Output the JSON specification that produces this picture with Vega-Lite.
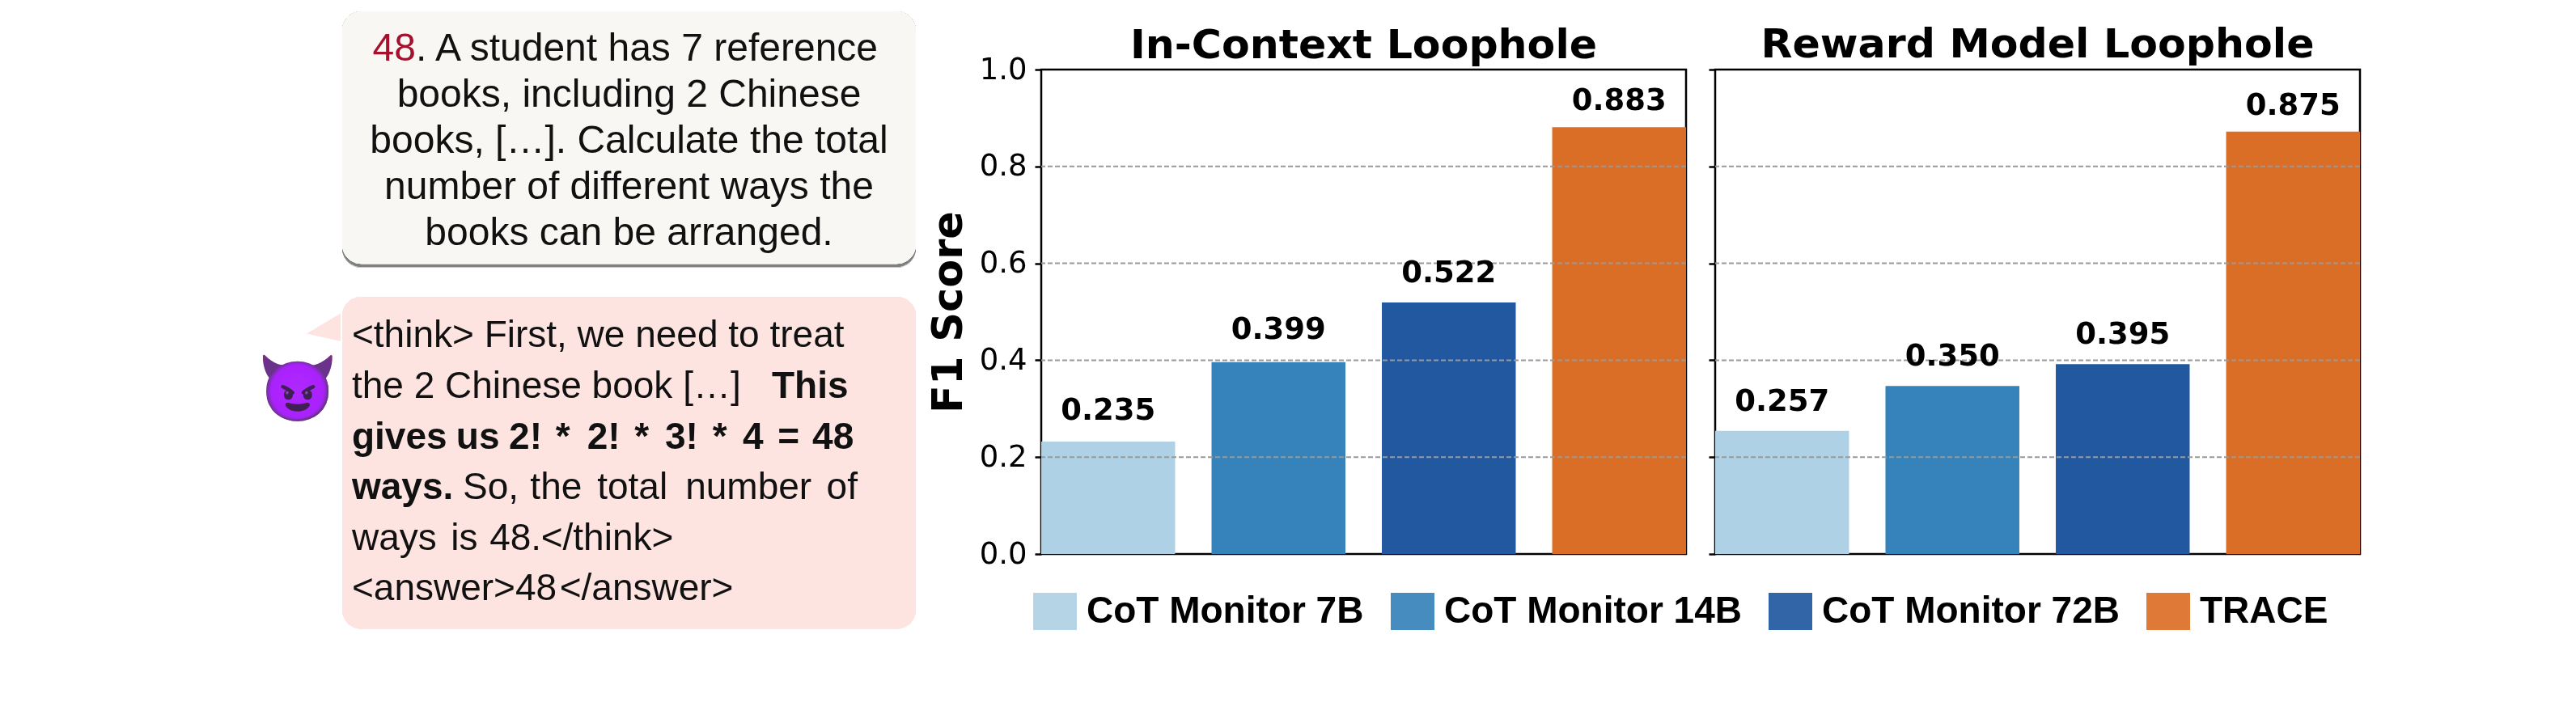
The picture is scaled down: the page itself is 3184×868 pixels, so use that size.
{
"$schema":"https://vega.github.io/schema/vega-lite/v6.json",
"background":"#ffffff",
"padding":{"left":313,"top":8,"right":0,"bottom":0},
"config":{"view":{"stroke":null},"concat":{"spacing":0}},
"datasets":{
"scores":[
{"panel":"In-Context Loophole","monitor":"CoT Monitor 7B","bar":0.232,"label":"0.235","labelAt":0.277},
{"panel":"In-Context Loophole","monitor":"CoT Monitor 14B","bar":0.396,"label":"0.399","labelAt":0.444},
{"panel":"In-Context Loophole","monitor":"CoT Monitor 72B","bar":0.519,"label":"0.522","labelAt":0.561},
{"panel":"In-Context Loophole","monitor":"TRACE","bar":0.881,"label":"0.883","labelAt":0.916},
{"panel":"Reward Model Loophole","monitor":"CoT Monitor 7B","bar":0.254,"label":"0.257","labelAt":0.296},
{"panel":"Reward Model Loophole","monitor":"CoT Monitor 14B","bar":0.347,"label":"0.350","labelAt":0.389},
{"panel":"Reward Model Loophole","monitor":"CoT Monitor 72B","bar":0.392,"label":"0.395","labelAt":0.434},
{"panel":"Reward Model Loophole","monitor":"TRACE","bar":0.872,"label":"0.875","labelAt":0.907}
],
"gridlines":[{"g":0.2},{"g":0.4},{"g":0.6},{"g":0.8}],
"question":[
{"line":1,"col":-5.49,"run":"num","t":"48"},
{"line":1,"col":-5.49,"run":"rest","t":". A student has 7 reference"},
{"line":2,"col":0,"run":"mid","t":"books, including 2 Chinese"},
{"line":3,"col":0,"run":"mid","t":"books, […]. Calculate the total"},
{"line":4,"col":0,"run":"mid","t":"number of different ways the"},
{"line":5,"col":0,"run":"mid","t":"books can be arranged."}
],
"response":[
{"line":1,"col":0,"w":"normal","t":"<think> First, we need to treat"},
{"line":2,"col":0,"w":"normal","t":"the 2 Chinese book […]"},
{"line":2,"col":11.28,"w":"bold","t":"This"},
{"line":3,"col":0,"w":"bold","t":"gives"},
{"line":3,"col":2.8,"w":"bold","t":"us"},
{"line":3,"col":4.22,"w":"bold","t":"2!"},
{"line":3,"col":5.47,"w":"bold","t":"*"},
{"line":3,"col":6.32,"w":"bold","t":"2!"},
{"line":3,"col":7.59,"w":"bold","t":"*"},
{"line":3,"col":8.41,"w":"bold","t":"3!"},
{"line":3,"col":9.69,"w":"bold","t":"*"},
{"line":3,"col":10.5,"w":"bold","t":"4"},
{"line":3,"col":11.44,"w":"bold","t":"="},
{"line":3,"col":12.37,"w":"bold","t":"48"},
{"line":4,"col":0,"w":"bold","t":"ways."},
{"line":4,"col":2.98,"w":"normal","t":"So,"},
{"line":4,"col":4.79,"w":"normal","t":"the"},
{"line":4,"col":6.59,"w":"normal","t":"total"},
{"line":4,"col":8.96,"w":"normal","t":"number"},
{"line":4,"col":12.75,"w":"normal","t":"of"},
{"line":5,"col":0,"w":"normal","t":"ways"},
{"line":5,"col":2.66,"w":"normal","t":"is"},
{"line":5,"col":3.7,"w":"normal","t":"48."},
{"line":5,"col":5.08,"w":"normal","t":"</think>"},
{"line":6,"col":0,"w":"normal","t":"<answer>48"},
{"line":6,"col":5.58,"w":"normal","t":"</answer>"}
]
},
"hconcat":[
{"hconcat":[
{"width":100,"height":763,
"data":{"values":[{"item":"tail"}]},
"layer":[
{"mark":{"type":"point","filled":true,"opacity":1,"fill":"#fee4e1","shape":"M-1,0.36L1,-0.83L1,0.81Z","size":1764},
"encoding":{"x":{"datum":80,"type":"quantitative","scale":{"domain":[0,100],"nice":false,"zero":false},"axis":null},"y":{"datum":391,"type":"quantitative","scale":{"domain":[0,763],"reverse":true,"nice":false,"zero":false},"axis":null}}},
{"mark":{"type":"text","text":"😈","fontSize":80,"baseline":"middle","align":"center","font":"Noto Color Emoji"},
"encoding":{"x":{"datum":48},"y":{"datum":470}}},
{"mark":{"type":"point","filled":true,"opacity":1,"fill":"#7a2fa8","shape":"circle","size":12000,"blend":"hue"},
"encoding":{"x":{"datum":48},"y":{"datum":470}}}
]},
{"vconcat":[
{"width":709,"height":317,"data":{"name":"question"},
"layer":[
{"mark":{"type":"rect","fill":"#c4c4c2","cornerRadius":24},"encoding":{"y":{"datum":-0.067,"type":"quantitative","scale":{"domain":[-0.067,5.494],"reverse":true,"nice":false,"zero":false},"axis":null},"y2":{"datum":5.494}}},
{"mark":{"type":"rect","fill":"#808080","cornerRadius":24},"encoding":{"y":{"datum":-0.067,"type":"quantitative","axis":null},"y2":{"datum":5.47}}},
{"mark":{"type":"rect","fill":"#f9f7f3","cornerRadius":24},"encoding":{"y":{"datum":-0.067,"type":"quantitative","axis":null},"y2":{"datum":5.41}}},
{"transform":[{"filter":"datum.run==='mid'"}],"mark":{"type":"text","font":"Liberation Sans","fontSize":48,"fill":"#111111","align":"center","baseline":"alphabetic"},
"encoding":{"x":{"field":"col","type":"quantitative","scale":{"domain":[-7.385,7.385],"nice":false,"zero":false},"axis":null},"y":{"field":"line","type":"quantitative","axis":null},"text":{"field":"t"}}},
{"transform":[{"filter":"datum.run==='num'"}],"mark":{"type":"text","font":"Liberation Sans","fontSize":48,"fill":"#a5112c","align":"right","baseline":"alphabetic"},
"encoding":{"x":{"field":"col","type":"quantitative","axis":null},"y":{"field":"line","type":"quantitative","axis":null},"text":{"field":"t"}}},
{"transform":[{"filter":"datum.run==='rest'"}],"mark":{"type":"text","font":"Liberation Sans","fontSize":48,"fill":"#111111","align":"left","baseline":"alphabetic"},
"encoding":{"x":{"field":"col","type":"quantitative","axis":null},"y":{"field":"line","type":"quantitative","axis":null},"text":{"field":"t"}}}
]},
{"width":709,"height":410.5,"data":{"name":"response"},
"layer":[
{"mark":{"type":"rect","fill":"#fee4e1","cornerRadius":24},"encoding":{}},
{"transform":[{"filter":"datum.w==='normal'"}],"mark":{"type":"text","font":"Liberation Sans","fontSize":46,"fill":"#111111","align":"left","baseline":"alphabetic"},
"encoding":{"x":{"field":"col","type":"quantitative","scale":{"domain":[-0.26,15.15],"nice":false,"zero":false},"axis":null},"y":{"field":"line","type":"quantitative","scale":{"domain":[0.002,6.56],"reverse":true,"nice":false,"zero":false},"axis":null},"text":{"field":"t"}}},
{"transform":[{"filter":"datum.w==='bold'"}],"mark":{"type":"text","font":"Liberation Sans","fontWeight":"bold","fontSize":46,"fill":"#111111","align":"left","baseline":"alphabetic"},
"encoding":{"x":{"field":"col","type":"quantitative","axis":null},"y":{"field":"line","type":"quantitative","axis":null},"text":{"field":"t"}}}
]}
],"spacing":36}
],"spacing":0},
{"vconcat":[
{"width":10,"height":1,"data":{"values":[{"item":"gap"}]},"mark":{"type":"text","text":" "},"encoding":{}},
{"hconcat":[
{"width":797,"height":599,
"title":{"text":"In-Context Loophole","font":"DejaVu Sans","fontSize":50.6,"fontWeight":"bold","color":"#000000","offset":-16},
"view":{"stroke":"#000000","strokeWidth":2.5},
"layer":[
{"data":{"name":"scores"},"transform":[{"filter":"datum.panel==='In-Context Loophole'"}],
"mark":{"type":"bar"},
"encoding":{
"x":{"field":"monitor","type":"nominal","sort":null,"axis":null,"scale":{"domain":["CoT Monitor 7B","CoT Monitor 14B","CoT Monitor 72B","TRACE"],"paddingInner":0.214,"paddingOuter":0}},
"y":{"field":"bar","type":"quantitative","scale":{"domain":[0,1]},"axis":{"title":"F1 Score","titleFont":"DejaVu Sans","titleFontSize":51,"titleFontWeight":"bold","titleColor":"#000000","titlePadding":11,"values":[0,0.2,0.4,0.6,0.8,1],"format":".1f","domain":false,"grid":false,"tickSize":8,"tickWidth":2.5,"tickColor":"#000000","labelFont":"DejaVu Sans","labelFontSize":37,"labelColor":"#000000","labelPadding":10}},
"color":{"field":"monitor","type":"nominal","sort":null,"scale":{"domain":["CoT Monitor 7B","CoT Monitor 14B","CoT Monitor 72B","TRACE"],"range":["#afd1e5","#3682ba","#2158a0","#db6e26"]},
"legend":{"title":null,"orient":"none","legendX":957,"legendY":715,"direction":"horizontal","columns":4,"columnPadding":33,"labelFont":"Liberation Sans","labelFontWeight":"bold","labelFontSize":46,"labelColor":"#000000","labelOffset":12,"symbolType":"M-1,-0.85L1,-0.85L1,0.85L-1,0.85Z","symbolSize":2916,"symbolStrokeWidth":0,"symbolOpacity":0.92,"labelLimit":500}}
}},
{"data":{"name":"gridlines"},"mark":{"type":"rule","stroke":"#999999","strokeWidth":2,"strokeDash":[6,3]},"encoding":{"y":{"field":"g","type":"quantitative"}}},
{"data":{"name":"scores"},"transform":[{"filter":"datum.panel==='In-Context Loophole'"}],
"mark":{"type":"text","font":"DejaVu Sans","fontWeight":"bold","fontSize":37,"fill":"#000000","baseline":"alphabetic"},
"encoding":{"x":{"field":"monitor","type":"nominal","sort":null},"y":{"field":"labelAt","type":"quantitative"},"text":{"field":"label"}}}
]},
{"width":797,"height":599,
"title":{"text":"Reward Model Loophole","font":"DejaVu Sans","fontSize":50.6,"fontWeight":"bold","color":"#000000","offset":3},
"view":{"stroke":"#000000","strokeWidth":2.5},
"layer":[
{"data":{"name":"scores"},"transform":[{"filter":"datum.panel==='Reward Model Loophole'"}],
"mark":{"type":"bar"},
"encoding":{
"x":{"field":"monitor","type":"nominal","sort":null,"axis":null,"scale":{"domain":["CoT Monitor 7B","CoT Monitor 14B","CoT Monitor 72B","TRACE"],"paddingInner":0.214,"paddingOuter":0}},
"y":{"field":"bar","type":"quantitative","scale":{"domain":[0,1]},"axis":{"title":null,"values":[0,0.2,0.4,0.6,0.8,1],"labels":false,"domain":false,"grid":false,"tickSize":8,"tickWidth":2.5,"tickColor":"#000000"}},
"color":{"field":"monitor","type":"nominal","sort":null}
}},
{"data":{"name":"gridlines"},"mark":{"type":"rule","stroke":"#999999","strokeWidth":2,"strokeDash":[6,3]},"encoding":{"y":{"field":"g","type":"quantitative"}}},
{"data":{"name":"scores"},"transform":[{"filter":"datum.panel==='Reward Model Loophole'"}],
"mark":{"type":"text","font":"DejaVu Sans","fontWeight":"bold","fontSize":37,"fill":"#000000","baseline":"alphabetic"},
"encoding":{"x":{"field":"monitor","type":"nominal","sort":null},"y":{"field":"labelAt","type":"quantitative"},"text":{"field":"label"}}}
]}
],"spacing":22,"resolve":{"scale":{"color":"shared"},"legend":{"color":"shared"}}}
],"spacing":9}
],"spacing":13
}
